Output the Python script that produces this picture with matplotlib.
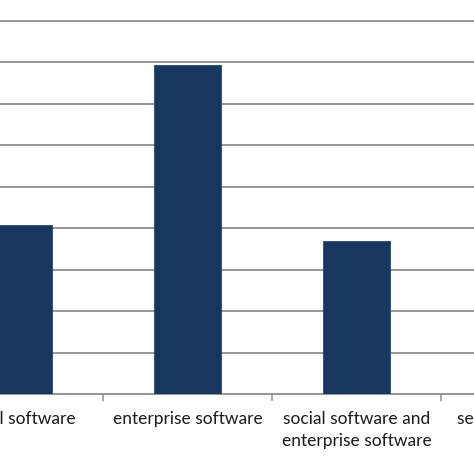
import matplotlib
matplotlib.use("Agg")
import matplotlib.pyplot as plt
import numpy as np

categories = ["social software", "enterprise software",
              "social software and\nenterprise software",
              "separate software"]
values = [4.07, 7.93, 3.68]
grid_levels = list(range(0, 10))

bar_color = "#17375E"
grid_color = "#979797"

fig = plt.figure(figsize=(4.74, 4.74), dpi=100)
ax = fig.add_axes([-66 / 474, 80 / 474, 676 / 474, 373.5 / 474])

x = np.arange(len(values))
ax.bar(x, values, width=0.4, color=bar_color, edgecolor="#2a4a75", linewidth=0.6, zorder=3)

ax.set_xlim(-0.5, len(categories) - 0.5)
ax.set_ylim(0, 9)
ax.set_yticks(grid_levels)
ax.yaxis.grid(True, color=grid_color, linewidth=1.4, zorder=0)
for gl in ax.get_ygridlines():
    gl.set_clip_on(False)
ax.tick_params(axis="y", length=0, labelleft=False)

ax.set_xticks(np.arange(len(categories)))
ax.set_xticklabels(categories, fontsize=12.5, family=["Lato", "DejaVu Sans"],
                   color="#1a1a1a", linespacing=1.45)
ax.tick_params(axis="x", which="major", length=0, pad=12.5)
ax.set_xticks(np.arange(len(categories) + 1) - 0.5, minor=True)
ax.tick_params(axis="x", which="minor", length=5, width=1.2, color=grid_color, direction="out")

for s in ["top", "left", "right"]:
    ax.spines[s].set_visible(False)
ax.spines["bottom"].set_color(grid_color)
ax.spines["bottom"].set_linewidth(1.4)
ax.set_axisbelow(True)

fig.savefig("out.png", dpi=100)
